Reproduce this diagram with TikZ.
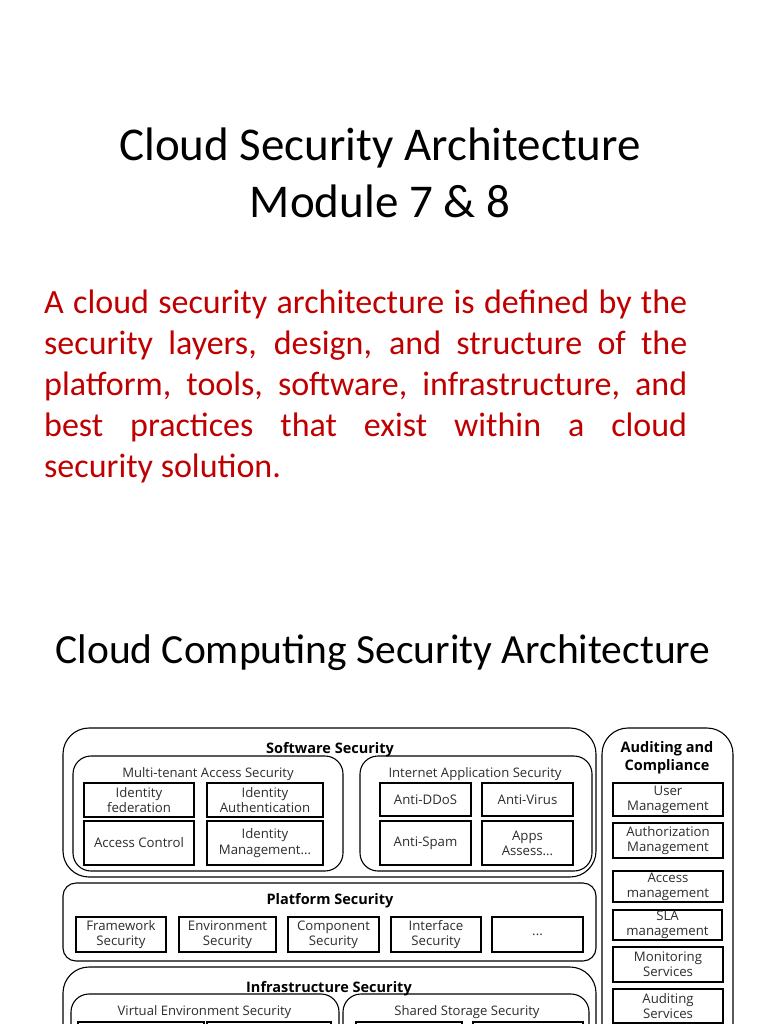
\documentclass[tikz,border=0pt]{standalone}
\usepackage{fontspec}
\setmainfont{Carlito}
\newfontfamily\diagfont{Open Sans}
\definecolor{redtext}{RGB}{192,0,0}
\definecolor{inktext}{RGB}{45,45,45}
\newcommand{\bx}[7][plainbox]{%
  \pgfmathsetmacro{\cxx}{(#3+#5)/2}\pgfmathsetmacro{\cyy}{(#4+#6)/2}%
  \pgfmathsetmacro{\wxx}{#5-#3}\pgfmathsetmacro{\hyy}{#6-#4}%
  \node[#1,minimum width=\wxx pt,minimum height=\hyy pt] (#2) at (\cxx,\cyy) {#7};}
\tikzset{
  plainbox/.style={draw=black,line width=1.3pt,inner sep=0pt,align=center,font=\diagfont\fontsize{13.2}{15.2}\selectfont,text=inktext},
  groupbig/.style={draw=black,line width=1.1pt,rounded corners=26pt,inner sep=0pt},
  groupsmall/.style={draw=black,line width=1.1pt,rounded corners=18pt,inner sep=0pt},
  groupflat/.style={draw=black,line width=1.1pt,rounded corners=13pt,inner sep=0pt},
  headbold/.style={inner sep=0pt,align=center,font=\diagfont\bfseries\fontsize{14.5}{18}\selectfont,text=black},
  headplain/.style={inner sep=0pt,align=center,font=\diagfont\fontsize{13.1}{15}\selectfont,text=inktext},
  slidetitle/.style={inner sep=0pt,align=center,font=\fontsize{47}{57}\selectfont,text=black},
  slidesub/.style={inner sep=0pt,align=center,font=\fontsize{41.5}{50}\selectfont,text=black},
  bodyred/.style={inner sep=0pt,text width=643pt,align=justify,font=\fontsize{34}{41}\selectfont,text=redtext,anchor=north west}
}
\begin{document}
\begin{tikzpicture}[x=1pt,y=-1pt]
\clip (0,0) rectangle (768,1024);
\fill[white] (0,0) rectangle (768,1024);
\node[slidetitle] (title) at (380,172.5) {Cloud Security Architecture\\Module 7 \& 8};
\node[bodyred] (body) at (44,290) {A cloud security architecture is defined by the\linebreak security layers, design, and structure of the\linebreak platform, tools, software, infrastructure, and\linebreak best practices that exist within a cloud\linebreak security solution.};
\node[slidesub] (subtitle) at (383,653) {Cloud Computing Security Architecture};
% Software
\bx[groupbig]{soft}{63}{728}{596}{877}{}
\node[headbold] (softh) at (330,750) {Software Security};
\bx[groupsmall]{multi}{73}{756}{343}{871}{}
\node[headplain] (multih) at (208,774) {Multi-tenant Access Security};
\bx{idfed}{84}{783}{194}{817}{Identity\\federation}
\bx{idauth}{207}{783}{323}{817}{Identity\\Authentication}
\bx{access}{84}{821}{194}{865}{Access Control}
\bx{idman}{207}{821}{323}{865}{Identity\\Management...}
\bx[groupsmall]{inet}{360}{756}{592}{871}{}
\node[headplain] (ineth) at (475,774) {Internet Application Security};
\bx{ddos}{380}{783}{471}{816}{Anti-DDoS}
\bx{virus}{482}{783}{573}{816}{Anti-Virus}
\bx{spam}{380}{821}{471}{865}{Anti-Spam}
\bx{apps}{482}{821}{573}{865}{Apps\\Assess...}
% Platform
\bx[groupflat]{plat}{63}{883}{596}{961}{}
\node[headbold] (plath) at (330,901) {Platform Security};
\bx{frame}{76}{917}{166}{952}{Framework\\Security}
\bx{env}{179}{917}{276}{952}{Environment\\Security}
\bx{comp}{288}{917}{379}{952}{Component\\Security}
\bx{iface}{391}{917}{481}{952}{Interface\\Security}
\bx{dots}{492}{917}{583}{952}{...}
% Infrastructure
\bx[groupbig]{infra}{63}{967}{596}{1110}{}
\node[headbold] (infrah) at (329,989) {Infrastructure Security};
\bx[groupsmall]{virt}{71}{994}{339}{1100}{}
\node[headplain] (virth) at (204.5,1012.5) {Virtual Environment Security};
\bx[groupsmall]{shared}{343}{994}{589}{1100}{}
\node[headplain] (sharedh) at (467,1012.5) {Shared Storage Security};
\bx{va}{78}{1022}{204}{1060}{}
\bx{vb}{207}{1022}{331}{1060}{}
\bx{sa}{356}{1022}{462}{1060}{}
\bx{sb}{473}{1022}{583}{1060}{}
% Auditing
\bx[groupbig]{audit}{602}{728}{733}{1110}{}
\node[headbold] (audith) at (667,758) {Auditing and\\Compliance};
\bx{user}{613}{783}{723}{816}{User\\Management}
\bx{authz}{613}{823}{723}{858}{Authorization\\Management}
\bx{accm}{613}{871}{723}{902}{Access\\management}
\bx{sla}{613}{910}{722}{940}{SLA\\management}
\bx{mon}{613}{947}{723}{982}{Monitoring\\Services}
\bx{aud}{613}{989}{723}{1023}{Auditing\\Services}
\end{tikzpicture}
\end{document}
